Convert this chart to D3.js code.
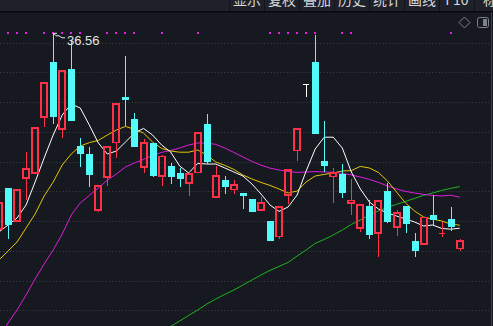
<!DOCTYPE html>
<html>
<head>
<meta charset="utf-8">
<script src="https://cdn.jsdelivr.net/npm/d3@7/dist/d3.min.js"></script>
<style>
    html, body { margin: 0; padding: 0; background: #161920; overflow: hidden; }
    svg { display: block; }
</style>
</head>
<body>
<svg id="kline" width="493" height="326"></svg>
<script>
// daily bars, first one (index -1) is cut off at the left edge
var firstBar = -1;
var opens  = [26.75, 28.80, 27.15, 29.29, 29.54, 32.35, 35.09, 31.74, 34.75, 30.90, 30.50, 27.70, 29.35, 31.08, 33.35, 32.25, 29.84, 31.07, 29.40, 29.90, 29.57, 29.04, 29.57, 32.00, 28.34, 29.20, 28.72, 28.55, 28.25, 27.69, 27.15, 26.37, 28.44, 30.67, 33.99, 35.10, 30.15, 29.37, 29.50, 28.04, 26.79, 27.90, 26.54, 28.65, 26.84, 27.90, 26.15, 25.99, 27.45, 26.54, 27.25, 25.78];
var highs  = [28.05, 28.80, 28.70, 30.60, 31.79, 34.05, 36.56, 34.64, 36.13, 31.29, 30.87, 28.95, 30.85, 33.00, 35.40, 32.57, 31.23, 31.07, 30.45, 30.07, 29.82, 29.62, 31.54, 32.50, 29.90, 29.40, 29.20, 28.55, 28.25, 28.37, 27.15, 27.84, 29.69, 31.74, 33.99, 36.45, 32.17, 29.79, 30.00, 29.24, 27.95, 28.20, 28.15, 29.04, 27.70, 27.90, 26.54, 27.32, 28.45, 27.09, 27.84, 26.25];
var lows   = [26.75, 26.25, 27.15, 28.20, 29.54, 31.85, 32.00, 31.28, 32.15, 29.87, 28.87, 27.62, 28.92, 30.29, 31.90, 30.83, 29.54, 29.34, 28.92, 29.00, 28.87, 28.42, 29.57, 30.00, 28.34, 28.50, 28.50, 27.75, 27.62, 27.69, 26.17, 26.25, 28.00, 30.17, 33.37, 31.52, 29.62, 28.04, 28.32, 27.45, 26.59, 26.27, 25.37, 27.04, 26.42, 26.57, 25.34, 25.99, 26.95, 26.37, 26.65, 25.65];
var closes = [28.05, 26.95, 28.70, 29.74, 31.79, 34.05, 32.37, 34.64, 32.17, 30.50, 29.45, 28.90, 30.85, 33.00, 33.20, 30.83, 31.04, 29.40, 30.37, 29.37, 29.25, 29.49, 31.54, 30.09, 29.40, 28.87, 28.95, 28.42, 27.62, 28.04, 26.17, 27.84, 29.69, 31.74, 33.99, 31.52, 29.92, 29.54, 28.57, 28.17, 27.95, 26.47, 28.15, 27.12, 27.54, 27.02, 25.67, 27.32, 27.20, 26.54, 26.87, 26.15];

// moving averages as drawn
var ma5  = [26.60, 26.95, 27.30, 27.95, 29.10, 30.30, 31.45, 32.45, 33.00, 32.80, 31.95, 31.05, 30.50, 30.65, 31.10, 31.55, 31.78, 31.45, 30.95, 30.60, 29.90, 29.55, 30.03, 30.00, 30.00, 29.80, 29.60, 29.40, 29.00, 28.50, 27.95, 27.63, 27.85, 28.45, 29.65, 30.75, 31.34, 31.34, 30.80, 29.60, 28.75, 28.10, 27.75, 27.55, 27.40, 27.25, 27.10, 26.90, 26.95, 26.78, 26.74, 26.79];
var ma10 = [25.20, 25.65, 26.10, 26.80, 27.50, 28.40, 29.10, 29.95, 30.50, 30.90, 31.07, 31.18, 31.45, 31.70, 31.88, 31.73, 31.55, 31.10, 30.78, 30.65, 30.59, 30.59, 30.70, 30.45, 30.10, 29.93, 29.73, 29.45, 29.25, 29.08, 28.93, 28.75, 28.55, 28.65, 29.10, 29.40, 29.48, 29.55, 29.65, 29.67, 29.88, 29.80, 29.58, 29.15, 28.60, 28.05, 27.65, 27.35, 27.25, 27.15, 27.00, 26.94];
var ma20 = [21.30, 22.05, 22.70, 23.45, 24.25, 25.00, 25.70, 26.50, 27.45, 28.05, 28.43, 28.80, 29.20, 29.50, 29.85, 30.05, 30.23, 30.43, 30.58, 30.68, 30.80, 30.95, 31.05, 31.05, 30.98, 30.80, 30.58, 30.35, 30.13, 29.94, 29.79, 29.70, 29.63, 29.58, 29.60, 29.62, 29.60, 29.59, 29.53, 29.45, 29.35, 29.23, 29.08, 28.90, 28.75, 28.63, 28.55, 28.48, 28.43, 28.40, 28.44, 28.34];
var ma60 = [null, null, null, null, null, null, null, null, null, null, null, null, null, null, null, null, null, null,
            21.60, 21.88, 22.15, 22.43, 22.70, 23.00, 23.25, 23.48, 23.70, 23.95, 24.20, 24.45, 24.68, 24.88, 25.08, 25.40, 25.70, 26.03, 26.23, 26.45, 26.70, 26.98, 27.20, 27.45, 27.65, 27.83, 27.98, 28.13, 28.28, 28.43, 28.55, 28.68, 28.78, 28.87];

// bars with a signal dot in the top row
var signalBars = [0, 1, 2, 4, 5, 6, 7, 8, 11, 12, 13, 14, 17, 21, 29, 30, 31, 32, 33, 34, 37, 38, 49];

// dotted price levels
var gridLevels = [36.07, 34.58, 33.09, 31.60, 30.12, 28.63, 27.14, 25.65, 24.17, 22.68];

var toolLabels = ["显示", "复权", "叠加", "历史", "统计", "画线", "F10", "标记"];
var highLabel = "36.56";

var RED = "#ff3048", CYAN = "#52fafa";

drawChart();

function drawChart() {
    var svg = d3.select("#kline");
    var W = 493, H = 326, TOP = 12;

    var x = d3.scaleLinear().domain([0, 50]).range([8, 459.75]);
    var y = d3.scaleLinear().domain([38.2, 21.9]).range([0, 326]);

    var bars = opens.map(function(o, k) {
        return {idx: firstBar + k, o: o, h: highs[k], l: lows[k], c: closes[k]};
    });

    svg.append("rect").attr("width", W).attr("height", H).attr("fill", "#161920");

    // toolbar strip
    svg.append("rect").attr("width", W).attr("height", TOP - 1).attr("fill", "#1e2129");
    svg.append("rect").attr("y", TOP - 1).attr("width", W).attr("height", 1.5).attr("fill", "#08090c");

    var tabs = svg.append("g").attr("class", "tabs");
    tabs.selectAll("rect.sep")
            .data(toolLabels)
            .enter().append("rect")
            .attr("class", "sep")
            .attr("x", function(d, i) { return 229 + i * 35; })
            .attr("y", 0)
            .attr("width", 1)
            .attr("height", TOP - 1)
            .attr("fill", "#121419");
    tabs.selectAll("text")
            .data(toolLabels)
            .enter().append("text")
            .attr("x", function(d, i) { return 247 + i * 35; })
            .attr("y", 4.5)
            .attr("text-anchor", function(d, i) { return i === 7 ? "start" : "middle"; })
            .attr("dx", function(d, i) { return i === 7 ? -9 : 0; })
            .attr("fill", "#d6d8dc")
            .style("font-family", "'Noto Sans CJK SC', 'Noto Sans', sans-serif")
            .style("font-size", "14px")
            .text(function(d) { return d; });

    // icons at the top right
    svg.append("path")
            .attr("d", "M464.5,17 L470,22.5 L464.5,28 L459,22.5 Z")
            .attr("fill", "none")
            .attr("stroke", "#7d828c")
            .attr("stroke-width", 1);
    svg.append("rect")
            .attr("x", 477.5).attr("y", 17.5).attr("width", 11).attr("height", 10).attr("rx", 2)
            .attr("fill", "none").attr("stroke", "#7d828c").attr("stroke-width", 1);
    svg.append("rect")
            .attr("x", 483).attr("y", 19).attr("width", 4).attr("height", 7)
            .attr("fill", "#7d828c");

    svg.append("clipPath").attr("id", "plot")
            .append("rect").attr("x", 0).attr("y", TOP + 1).attr("width", 491).attr("height", H - TOP);

    var plot = svg.append("g").attr("clip-path", "url(#plot)");

    plot.selectAll("line.grid")
            .data(gridLevels)
            .enter().append("line")
            .attr("class", "grid")
            .attr("x1", 0).attr("x2", 491)
            .attr("y1", function(d) { return Math.round(y(d)) + 0.5; })
            .attr("y2", function(d) { return Math.round(y(d)) + 0.5; })
            .attr("stroke", "#3c4049")
            .attr("stroke-dasharray", "1,2.3");

    // signal dots
    plot.selectAll("rect.sig")
            .data(signalBars)
            .enter().append("rect")
            .attr("class", "sig")
            .attr("x", function(d) { return Math.round(x(d)) - 1; })
            .attr("y", 32)
            .attr("width", 2)
            .attr("height", 2)
            .attr("fill", "#e61ee6");

    var avgs = [
        {vals: ma60, color: "#1fb51f"},
        {vals: ma20, color: "#dc1edc"},
        {vals: ma10, color: "#e6c600"},
        {vals: ma5, color: "#ffffff"}
    ];
    var line = d3.line()
            .defined(function(v) { return v != null; })
            .x(function(v, k) { return x(firstBar + k); })
            .y(function(v) { return y(v); });
    plot.selectAll("path.ma")
            .data(avgs)
            .enter().append("path")
            .attr("class", "ma")
            .attr("d", function(d) { return line(d.vals); })
            .attr("fill", "none")
            .attr("stroke", function(d) { return d.color; })
            .attr("stroke-width", 1);

    function colorOf(d) {
        if (d.c > d.o) return RED;
        if (d.c < d.o) return CYAN;
        return d.h === d.o ? "#ffffff" : RED;
    }

    var candle = plot.selectAll("g.bar")
            .data(bars)
            .enter().append("g")
            .attr("class", "bar")
            .style("shape-rendering", "crispEdges");

    // wicks (red bars leave the hollow body empty)
    candle.append("rect")
            .attr("x", function(d) { return Math.round(x(d.idx)) - 0.5; })
            .attr("y", function(d) { return y(d.h); })
            .attr("width", 1)
            .attr("height", function(d) { return d.c > d.o ? y(d.c) - y(d.h) : y(d.l) - y(d.h); })
            .attr("fill", colorOf);
    candle.filter(function(d) { return d.c > d.o; })
            .append("rect")
            .attr("x", function(d) { return Math.round(x(d.idx)) - 0.5; })
            .attr("y", function(d) { return y(d.o); })
            .attr("width", 1)
            .attr("height", function(d) { return y(d.l) - y(d.o); })
            .attr("fill", RED);

    candle.filter(function(d) { return d.c > d.o; })
            .append("rect")
            .attr("x", function(d) { return Math.round(x(d.idx)) - 3; })
            .attr("y", function(d) { return y(d.c); })
            .attr("width", 6)
            .attr("height", function(d) { return y(d.o) - y(d.c); })
            .attr("fill", "none")
            .attr("stroke", RED)
            .attr("stroke-width", 1.5);

    candle.filter(function(d) { return d.c < d.o; })
            .append("rect")
            .attr("x", function(d) { return Math.round(x(d.idx)) - 3.5; })
            .attr("y", function(d) { return y(d.o); })
            .attr("width", 7)
            .attr("height", function(d) { return Math.max(1, y(d.c) - y(d.o)); })
            .attr("fill", CYAN);

    candle.filter(function(d) { return d.c === d.o; })
            .append("rect")
            .attr("x", function(d) { return Math.round(x(d.idx)) - 3; })
            .attr("y", function(d) { return y(d.o) - 0.5; })
            .attr("width", 6)
            .attr("height", 1.2)
            .attr("fill", colorOf);

    // highest price marker
    var top = bars.reduce(function(a, b) { return b.h > a.h ? b : a; });
    var tx = Math.round(x(top.idx)), ty = y(top.h);
    plot.append("path")
            .attr("d", "M" + (tx + 0.5) + "," + (ty + 0.5) + " L" + (tx + 4) + "," + (ty + 0.5)
                    + " M" + (tx + 0.5) + "," + (ty + 0.5) + " L" + (tx + 3) + "," + (ty + 3)
                    + " L" + (tx + 6) + "," + (ty + 3) + " L" + (tx + 9) + "," + (ty + 5) + " L" + (tx + 12) + "," + (ty + 5))
            .attr("fill", "none")
            .attr("stroke", "#e8e8e8")
            .attr("stroke-width", 1);
    plot.append("text")
            .attr("x", tx + 14)
            .attr("y", ty + 12.5)
            .attr("fill", "#e6e6e6")
            .style("font-family", "'Liberation Sans', Arial, sans-serif")
            .style("font-size", "13px")
            .text(highLabel);

    // right border
    svg.append("rect").attr("x", 491).attr("y", TOP).attr("width", 1).attr("height", H - TOP).attr("fill", "#3a3e46");
}
</script>
</body>
</html>
